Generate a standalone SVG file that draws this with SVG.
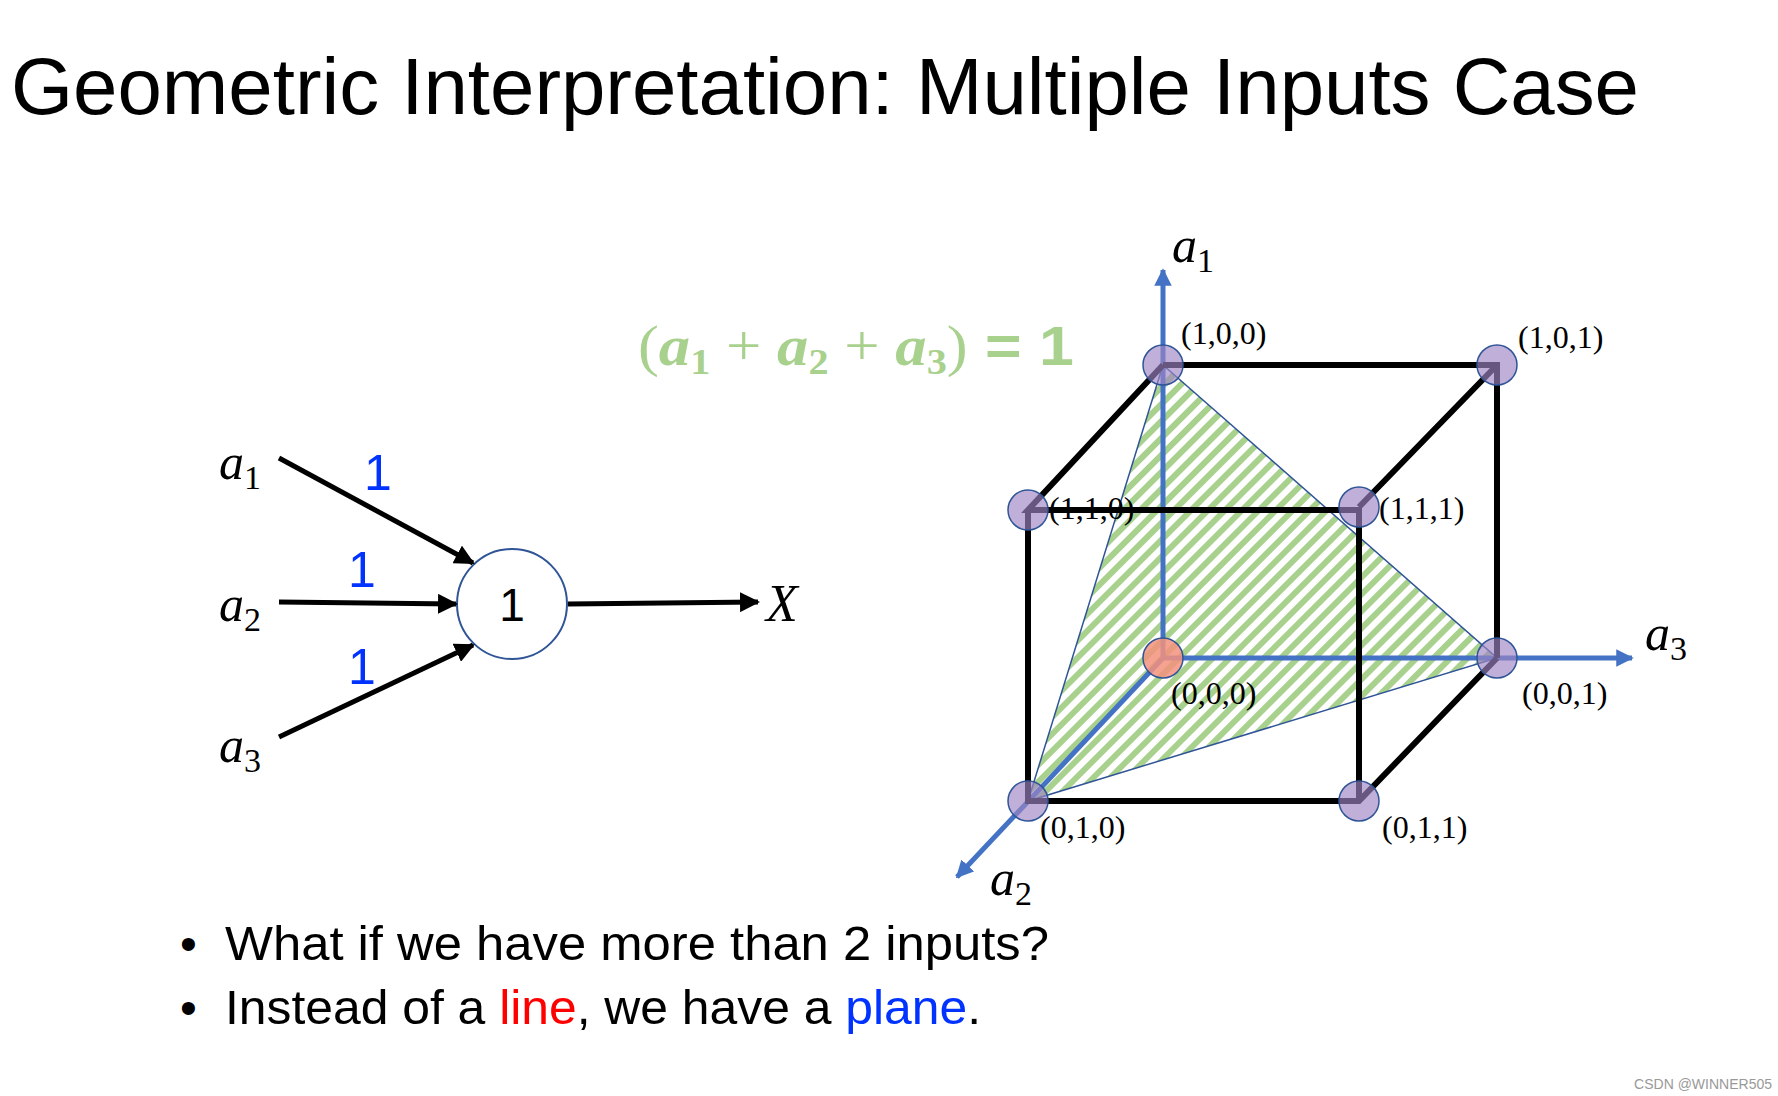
<svg xmlns="http://www.w3.org/2000/svg" width="1778" height="1096" viewBox="0 0 1778 1096">
<style>
.t{font-family:"Liberation Sans",Arial,sans-serif}
.m{font-family:"Liberation Serif",serif;font-style:italic}
.c{font-family:"Liberation Serif",serif;font-size:32px}
.e{stroke:#000;stroke-width:6;fill:none}
.ax{stroke:#4472C4;stroke-width:5}
.v{fill:#9E84C4;fill-opacity:0.65;stroke:#2F5597;stroke-width:1.5}
.w{fill:#0033FF;font-family:"Liberation Sans",Arial,sans-serif;font-size:50px}
.ar{stroke:#000;stroke-width:5}
</style>
<defs>
<pattern id="h" width="12" height="12" patternUnits="userSpaceOnUse" patternTransform="rotate(-45)">
<rect width="12" height="12" fill="#fff"/>
<rect width="12" height="6" fill="#A9D18E"/>
</pattern>
<marker id="ka" viewBox="0 0 10 10" refX="9" refY="5" markerWidth="4" markerHeight="4" orient="auto"><path d="M0,0L10,5L0,10z" fill="#000"/></marker>
<marker id="kb" viewBox="0 0 10 10" refX="9" refY="5" markerWidth="3.5" markerHeight="3.5" orient="auto"><path d="M0,0L10,5L0,10z" fill="#4472C4"/></marker>
</defs>
<rect width="1778" height="1096" fill="#fff"/>
<text class="t" x="11" y="114" font-size="80" textLength="1628" lengthAdjust="spacingAndGlyphs">Geometric Interpretation: Multiple Inputs Case</text>

<g id="neuron">
<circle cx="512" cy="604" r="55" fill="#fff" stroke="#2F5597" stroke-width="2"/>
<text class="t" x="512" y="621" font-size="46" text-anchor="middle">1</text>
</g>
<g id="inputs">
<text class="m" x="219" y="479" font-size="50">a<tspan font-size="34" dy="10" font-style="normal">1</tspan></text>
<text class="m" x="219" y="621" font-size="50">a<tspan font-size="34" dy="10" font-style="normal">2</tspan></text>
<text class="m" x="219" y="762" font-size="50">a<tspan font-size="34" dy="10" font-style="normal">3</tspan></text>
<text class="m" x="766" y="621" font-size="52">X</text>
<text class="w" x="364" y="490">1</text>
<text class="w" x="348" y="587">1</text>
<text class="w" x="348" y="684">1</text>
</g>
<g id="connectors">
<line class="ar" x1="279" y1="458" x2="473" y2="563" marker-end="url(#ka)"/>
<line class="ar" x1="279" y1="602" x2="456" y2="604" marker-end="url(#ka)"/>
<line class="ar" x1="279" y1="737" x2="473" y2="645" marker-end="url(#ka)"/>
<line class="ar" x1="568" y1="604" x2="758" y2="602" marker-end="url(#ka)"/>
</g>

<g id="plane">
<polygon points="1163,365 1028,801 1497,658" fill="url(#h)" stroke="#2F5597" stroke-width="1.5"/>
</g>
<g id="axes">
<line class="ax" x1="1163" y1="658" x2="1163" y2="270" marker-end="url(#kb)"/>
<line class="ax" x1="1163" y1="658" x2="1632" y2="658" marker-end="url(#kb)"/>
<line class="ax" x1="1163" y1="658" x2="957" y2="877" marker-end="url(#kb)"/>
</g>
<g id="cube">
<path class="e" d="M1163,365H1497V658M1163,365L1028,510H1359V801M1497,365L1359,507M1028,510V801H1359L1497,658"/>
</g>
<g id="vertices">
<circle class="v" cx="1163" cy="365" r="20"/>
<circle class="v" cx="1497" cy="365" r="20"/>
<circle class="v" cx="1028" cy="510" r="20"/>
<circle class="v" cx="1359" cy="507" r="20"/>
<circle cx="1163" cy="658" r="20" fill="#F4927E" fill-opacity="0.85" stroke="#2F5597" stroke-width="1.5"/>
<circle class="v" cx="1497" cy="658" r="20"/>
<circle class="v" cx="1028" cy="801" r="20"/>
<circle class="v" cx="1359" cy="801" r="20"/>
</g>
<g id="labels">
<text class="c" x="1181" y="344">(1,0,0)</text>
<text class="c" x="1518" y="348">(1,0,1)</text>
<text class="c" x="1049" y="519">(1,1,0)</text>
<text class="c" x="1379" y="519">(1,1,1)</text>
<text class="c" x="1171" y="704">(0,0,0)</text>
<text class="c" x="1522" y="704">(0,0,1)</text>
<text class="c" x="1040" y="838">(0,1,0)</text>
<text class="c" x="1382" y="838">(0,1,1)</text>
<text class="m" x="1172" y="262" font-size="50">a<tspan font-size="34" dy="10" font-style="normal">1</tspan></text>
<text class="m" x="1645" y="650" font-size="50">a<tspan font-size="34" dy="10" font-style="normal">3</tspan></text>
<text class="m" x="990" y="895" font-size="50">a<tspan font-size="34" dy="10" font-style="normal">2</tspan></text>
</g>
<g id="equation" fill="#A9D18E" font-weight="bold">
<text x="638" y="365" font-size="56" font-family="Liberation Serif,serif" textLength="436" lengthAdjust="spacingAndGlyphs"><tspan font-weight="normal">(</tspan><tspan font-style="italic">a</tspan><tspan font-size="36" dy="9">1</tspan><tspan dy="-9" font-weight="normal"> + </tspan><tspan font-style="italic">a</tspan><tspan font-size="36" dy="9">2</tspan><tspan dy="-9" font-weight="normal"> + </tspan><tspan font-style="italic">a</tspan><tspan font-size="36" dy="9">3</tspan><tspan dy="-9" font-weight="normal">)</tspan><tspan font-family="Liberation Sans,sans-serif"> = 1</tspan></text>
</g>
<g id="bullets" class="t" font-size="48">
<text x="180" y="960">•</text>
<text x="225" y="960" textLength="824" lengthAdjust="spacingAndGlyphs">What if we have more than 2 inputs?</text>
<text x="180" y="1024">•</text>
<text x="225" y="1024" textLength="756" lengthAdjust="spacingAndGlyphs">Instead of a <tspan fill="#FF0000">line</tspan>, we have a <tspan fill="#0033FF">plane</tspan>.</text>
</g>
<text class="t" x="1772" y="1089" font-size="14" fill="#999" text-anchor="end">CSDN @WINNER505</text>
</svg>
